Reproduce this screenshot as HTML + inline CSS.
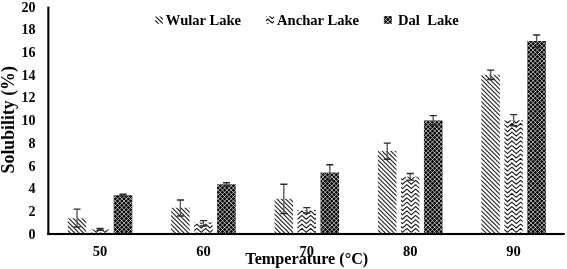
<!DOCTYPE html>
<html><head><meta charset="utf-8"><title>Solubility chart</title>
<style>
html,body{margin:0;padding:0;background:#fff;}
body{width:567px;height:269px;overflow:hidden;}
svg{display:block;}
text{font-family:"Liberation Serif","Times New Roman",serif;font-weight:bold;fill:#000;}
</style></head><body>
<svg width="567" height="269" viewBox="0 0 567 269">
<rect width="567" height="269" fill="#fff"/>
<defs><clipPath id="b1"><rect x="67.75" y="218.3" width="18.5" height="15.7"/></clipPath>
<clipPath id="b2"><rect x="90.75" y="229.6" width="18.5" height="4.4"/></clipPath>
<clipPath id="b3"><rect x="113.75" y="195.2" width="18.5" height="38.8"/></clipPath>
<clipPath id="b4"><rect x="171.15" y="207.8" width="18.5" height="26.2"/></clipPath>
<clipPath id="b5"><rect x="194.15" y="222.6" width="18.5" height="11.4"/></clipPath>
<clipPath id="b6"><rect x="217.15" y="184.3" width="18.5" height="49.7"/></clipPath>
<clipPath id="b7"><rect x="274.55" y="198.8" width="18.5" height="35.2"/></clipPath>
<clipPath id="b8"><rect x="297.55" y="210" width="18.5" height="24"/></clipPath>
<clipPath id="b9"><rect x="320.55" y="172.6" width="18.5" height="61.4"/></clipPath>
<clipPath id="b10"><rect x="377.95" y="151.1" width="18.5" height="82.9"/></clipPath>
<clipPath id="b11"><rect x="400.95" y="176.7" width="18.5" height="57.3"/></clipPath>
<clipPath id="b12"><rect x="423.95" y="120.5" width="18.5" height="113.5"/></clipPath>
<clipPath id="b13"><rect x="481.35" y="74.8" width="18.5" height="159.2"/></clipPath>
<clipPath id="b14"><rect x="504.35" y="120.2" width="18.5" height="113.8"/></clipPath>
<clipPath id="b15"><rect x="527.35" y="41" width="18.5" height="193"/></clipPath>
<clipPath id="c1"><rect x="155.2" y="16.4" width="7.7" height="7.3"/></clipPath>
<clipPath id="c2"><rect x="266" y="16.3" width="8" height="7.5"/></clipPath>
<clipPath id="c3"><rect x="383.9" y="16" width="8" height="7.8"/></clipPath>
<filter id="bl" x="0" y="0" width="567" height="269" filterUnits="userSpaceOnUse"><feGaussianBlur stdDeviation="0.35"/></filter></defs>
<g filter="url(#bl)">
<path clip-path="url(#b1)" d="M84.75,216.8L87.75,219.8M80.38,216.8L87.75,224.18M76,216.8L87.75,228.55M71.62,216.8L87.75,232.93M67.25,216.8L85.95,235.5M66.25,220.18L81.57,235.5M66.25,224.55L77.2,235.5M66.25,228.93L72.82,235.5M66.25,233.3L68.45,235.5" stroke="#1c1c1c" stroke-width="1.1" fill="none"/>
<path clip-path="url(#b2)" d="M87.5,223.62L91.88,219.72L96.25,223.62L100.62,219.72L105,223.62L109.38,219.72L113.75,223.62L118.12,219.72M87.5,228L91.88,224.1L96.25,228L100.62,224.1L105,228L109.38,224.1L113.75,228L118.12,224.1M87.5,232.38L91.88,228.47L96.25,232.38L100.62,228.47L105,232.38L109.38,228.47L113.75,232.38L118.12,228.47M87.5,236.75L91.88,232.85L96.25,236.75L100.62,232.85L105,236.75L109.38,232.85L113.75,236.75L118.12,232.85" stroke="#161616" stroke-width="1.06" fill="none" stroke-linejoin="round"/>
<rect x="113.75" y="195.2" width="18.5" height="38.8" fill="#000"/>
<path clip-path="url(#b3)" d="M112.25,176.09L133.75,197.59M112.25,180.47L133.75,201.97M112.25,184.84L133.75,206.34M112.25,189.22L133.75,210.72M112.25,193.59L133.75,215.09M112.25,197.97L133.75,219.47M112.25,202.34L133.75,223.84M112.25,206.72L133.75,228.22M112.25,211.09L133.75,232.59M112.25,215.47L133.75,236.97M112.25,219.84L133.75,241.34M112.25,224.22L133.75,245.72M112.25,228.59L133.75,250.09M112.25,232.97L133.75,254.47M112.25,195.31L133.75,173.81M112.25,199.68L133.75,178.18M112.25,204.06L133.75,182.56M112.25,208.43L133.75,186.93M112.25,212.81L133.75,191.31M112.25,217.18L133.75,195.68M112.25,221.56L133.75,200.06M112.25,225.93L133.75,204.43M112.25,230.31L133.75,208.81M112.25,234.68L133.75,213.18M112.25,239.06L133.75,217.56M112.25,243.43L133.75,221.93M112.25,247.81L133.75,226.31M112.25,252.18L133.75,230.68" stroke="#e8e8e8" stroke-width="0.75" fill="none"/>
<path clip-path="url(#b4)" d="M188,206.3L191.15,209.45M183.62,206.3L191.15,213.83M179.25,206.3L191.15,218.2M174.88,206.3L191.15,222.58M170.5,206.3L191.15,226.95M169.65,209.83L191.15,231.33M169.65,214.2L190.95,235.5M169.65,218.58L186.57,235.5M169.65,222.95L182.2,235.5M169.65,227.33L177.82,235.5M169.65,231.7L173.45,235.5" stroke="#1c1c1c" stroke-width="1.1" fill="none"/>
<path clip-path="url(#b5)" d="M183.75,219.25L188.12,215.35L192.5,219.25L196.88,215.35L201.25,219.25L205.62,215.35L210,219.25L214.38,215.35L218.75,219.25L223.12,215.35M183.75,223.62L188.12,219.72L192.5,223.62L196.88,219.72L201.25,223.62L205.62,219.72L210,223.62L214.38,219.72L218.75,223.62L223.12,219.72M183.75,228L188.12,224.1L192.5,228L196.88,224.1L201.25,228L205.62,224.1L210,228L214.38,224.1L218.75,228L223.12,224.1M183.75,232.38L188.12,228.47L192.5,232.38L196.88,228.47L201.25,232.38L205.62,228.47L210,232.38L214.38,228.47L218.75,232.38L223.12,228.47M183.75,236.75L188.12,232.85L192.5,236.75L196.88,232.85L201.25,236.75L205.62,232.85L210,236.75L214.38,232.85L218.75,236.75L223.12,232.85" stroke="#161616" stroke-width="1.06" fill="none" stroke-linejoin="round"/>
<rect x="217.15" y="184.3" width="18.5" height="49.7" fill="#000"/>
<path clip-path="url(#b6)" d="M215.65,165.75L237.15,187.25M215.65,170.12L237.15,191.62M215.65,174.5L237.15,196M215.65,178.87L237.15,200.37M215.65,183.25L237.15,204.75M215.65,187.62L237.15,209.12M215.65,192L237.15,213.5M215.65,196.37L237.15,217.87M215.65,200.75L237.15,222.25M215.65,205.12L237.15,226.62M215.65,209.5L237.15,231M215.65,213.87L237.15,235.37M215.65,218.25L237.15,239.75M215.65,222.62L237.15,244.12M215.65,227L237.15,248.5M215.65,231.37L237.15,252.87M215.65,188.15L237.15,166.65M215.65,192.53L237.15,171.03M215.65,196.9L237.15,175.4M215.65,201.28L237.15,179.78M215.65,205.65L237.15,184.15M215.65,210.03L237.15,188.53M215.65,214.4L237.15,192.9M215.65,218.78L237.15,197.28M215.65,223.15L237.15,201.65M215.65,227.53L237.15,206.03M215.65,231.9L237.15,210.4M215.65,236.28L237.15,214.78M215.65,240.65L237.15,219.15M215.65,245.03L237.15,223.53M215.65,249.4L237.15,227.9M215.65,253.78L237.15,232.28" stroke="#e8e8e8" stroke-width="0.75" fill="none"/>
<path clip-path="url(#b7)" d="M292.75,197.3L294.55,199.1M288.38,197.3L294.55,203.48M284,197.3L294.55,207.85M279.62,197.3L294.55,212.23M275.25,197.3L294.55,216.6M273.05,199.48L294.55,220.98M273.05,203.85L294.55,225.35M273.05,208.23L294.55,229.73M273.05,212.6L294.55,234.1M273.05,216.98L291.57,235.5M273.05,221.35L287.2,235.5M273.05,225.73L282.82,235.5M273.05,230.1L278.45,235.5M273.05,234.48L274.07,235.5" stroke="#1c1c1c" stroke-width="1.1" fill="none"/>
<path clip-path="url(#b8)" d="M288.75,206.12L293.12,202.22L297.5,206.12L301.88,202.22L306.25,206.12L310.62,202.22L315,206.12L319.38,202.22M288.75,210.5L293.12,206.6L297.5,210.5L301.88,206.6L306.25,210.5L310.62,206.6L315,210.5L319.38,206.6M288.75,214.88L293.12,210.97L297.5,214.88L301.88,210.97L306.25,214.88L310.62,210.97L315,214.88L319.38,210.97M288.75,219.25L293.12,215.35L297.5,219.25L301.88,215.35L306.25,219.25L310.62,215.35L315,219.25L319.38,215.35M288.75,223.62L293.12,219.72L297.5,223.62L301.88,219.72L306.25,223.62L310.62,219.72L315,223.62L319.38,219.72M288.75,228L293.12,224.1L297.5,228L301.88,224.1L306.25,228L310.62,224.1L315,228L319.38,224.1M288.75,232.38L293.12,228.47L297.5,232.38L301.88,228.47L306.25,232.38L310.62,228.47L315,232.38L319.38,228.47M288.75,236.75L293.12,232.85L297.5,236.75L301.88,232.85L306.25,236.75L310.62,232.85L315,236.75L319.38,232.85" stroke="#161616" stroke-width="1.06" fill="none" stroke-linejoin="round"/>
<rect x="320.55" y="172.6" width="18.5" height="61.4" fill="#000"/>
<path clip-path="url(#b9)" d="M319.05,151.02L340.55,172.52M319.05,155.4L340.55,176.9M319.05,159.77L340.55,181.27M319.05,164.15L340.55,185.65M319.05,168.52L340.55,190.02M319.05,172.9L340.55,194.4M319.05,177.27L340.55,198.77M319.05,181.65L340.55,203.15M319.05,186.02L340.55,207.52M319.05,190.4L340.55,211.9M319.05,194.77L340.55,216.27M319.05,199.15L340.55,220.65M319.05,203.52L340.55,225.02M319.05,207.9L340.55,229.4M319.05,212.27L340.55,233.77M319.05,216.65L340.55,238.15M319.05,221.02L340.55,242.52M319.05,225.4L340.55,246.9M319.05,229.77L340.55,251.27M319.05,234.15L340.55,255.65M319.05,172.25L340.55,150.75M319.05,176.63L340.55,155.13M319.05,181L340.55,159.5M319.05,185.38L340.55,163.88M319.05,189.75L340.55,168.25M319.05,194.13L340.55,172.63M319.05,198.5L340.55,177M319.05,202.88L340.55,181.38M319.05,207.25L340.55,185.75M319.05,211.63L340.55,190.13M319.05,216L340.55,194.5M319.05,220.38L340.55,198.88M319.05,224.75L340.55,203.25M319.05,229.13L340.55,207.63M319.05,233.5L340.55,212M319.05,237.88L340.55,216.38M319.05,242.25L340.55,220.75M319.05,246.63L340.55,225.13M319.05,251L340.55,229.5M319.05,255.38L340.55,233.88" stroke="#e8e8e8" stroke-width="0.75" fill="none"/>
<path clip-path="url(#b10)" d="M393.8,149.6L397.95,153.75M389.42,149.6L397.95,158.13M385.05,149.6L397.95,162.5M380.67,149.6L397.95,166.88M376.45,149.75L397.95,171.25M376.45,154.13L397.95,175.63M376.45,158.5L397.95,180M376.45,162.88L397.95,184.38M376.45,167.25L397.95,188.75M376.45,171.63L397.95,193.13M376.45,176L397.95,197.5M376.45,180.38L397.95,201.88M376.45,184.75L397.95,206.25M376.45,189.13L397.95,210.63M376.45,193.5L397.95,215M376.45,197.88L397.95,219.38M376.45,202.25L397.95,223.75M376.45,206.63L397.95,228.13M376.45,211L397.95,232.5M376.45,215.38L396.57,235.5M376.45,219.75L392.2,235.5M376.45,224.13L387.82,235.5M376.45,228.5L383.45,235.5M376.45,232.88L379.07,235.5" stroke="#1c1c1c" stroke-width="1.1" fill="none"/>
<path clip-path="url(#b11)" d="M393.75,171.12L398.12,167.22L402.5,171.12L406.88,167.22L411.25,171.12L415.62,167.22L420,171.12L424.38,167.22M393.75,175.5L398.12,171.6L402.5,175.5L406.88,171.6L411.25,175.5L415.62,171.6L420,175.5L424.38,171.6M393.75,179.88L398.12,175.97L402.5,179.88L406.88,175.97L411.25,179.88L415.62,175.97L420,179.88L424.38,175.97M393.75,184.25L398.12,180.35L402.5,184.25L406.88,180.35L411.25,184.25L415.62,180.35L420,184.25L424.38,180.35M393.75,188.62L398.12,184.72L402.5,188.62L406.88,184.72L411.25,188.62L415.62,184.72L420,188.62L424.38,184.72M393.75,193L398.12,189.1L402.5,193L406.88,189.1L411.25,193L415.62,189.1L420,193L424.38,189.1M393.75,197.38L398.12,193.47L402.5,197.38L406.88,193.47L411.25,197.38L415.62,193.47L420,197.38L424.38,193.47M393.75,201.75L398.12,197.85L402.5,201.75L406.88,197.85L411.25,201.75L415.62,197.85L420,201.75L424.38,197.85M393.75,206.12L398.12,202.22L402.5,206.12L406.88,202.22L411.25,206.12L415.62,202.22L420,206.12L424.38,202.22M393.75,210.5L398.12,206.6L402.5,210.5L406.88,206.6L411.25,210.5L415.62,206.6L420,210.5L424.38,206.6M393.75,214.88L398.12,210.97L402.5,214.88L406.88,210.97L411.25,214.88L415.62,210.97L420,214.88L424.38,210.97M393.75,219.25L398.12,215.35L402.5,219.25L406.88,215.35L411.25,219.25L415.62,215.35L420,219.25L424.38,215.35M393.75,223.62L398.12,219.72L402.5,223.62L406.88,219.72L411.25,223.62L415.62,219.72L420,223.62L424.38,219.72M393.75,228L398.12,224.1L402.5,228L406.88,224.1L411.25,228L415.62,224.1L420,228L424.38,224.1M393.75,232.38L398.12,228.47L402.5,232.38L406.88,228.47L411.25,232.38L415.62,228.47L420,232.38L424.38,228.47M393.75,236.75L398.12,232.85L402.5,236.75L406.88,232.85L411.25,236.75L415.62,232.85L420,236.75L424.38,232.85" stroke="#161616" stroke-width="1.06" fill="none" stroke-linejoin="round"/>
<rect x="423.95" y="120.5" width="18.5" height="113.5" fill="#000"/>
<path clip-path="url(#b12)" d="M422.45,101.3L443.95,122.8M422.45,105.67L443.95,127.17M422.45,110.05L443.95,131.55M422.45,114.42L443.95,135.92M422.45,118.8L443.95,140.3M422.45,123.17L443.95,144.67M422.45,127.55L443.95,149.05M422.45,131.92L443.95,153.42M422.45,136.3L443.95,157.8M422.45,140.67L443.95,162.17M422.45,145.05L443.95,166.55M422.45,149.42L443.95,170.92M422.45,153.8L443.95,175.3M422.45,158.17L443.95,179.67M422.45,162.55L443.95,184.05M422.45,166.92L443.95,188.42M422.45,171.3L443.95,192.8M422.45,175.67L443.95,197.17M422.45,180.05L443.95,201.55M422.45,184.42L443.95,205.92M422.45,188.8L443.95,210.3M422.45,193.17L443.95,214.67M422.45,197.55L443.95,219.05M422.45,201.92L443.95,223.42M422.45,206.3L443.95,227.8M422.45,210.67L443.95,232.17M422.45,215.05L443.95,236.55M422.45,219.42L443.95,240.92M422.45,223.8L443.95,245.3M422.45,228.17L443.95,249.67M422.45,232.55L443.95,254.05M422.45,121.35L443.95,99.85M422.45,125.73L443.95,104.23M422.45,130.1L443.95,108.6M422.45,134.48L443.95,112.98M422.45,138.85L443.95,117.35M422.45,143.23L443.95,121.73M422.45,147.6L443.95,126.1M422.45,151.98L443.95,130.48M422.45,156.35L443.95,134.85M422.45,160.73L443.95,139.23M422.45,165.1L443.95,143.6M422.45,169.48L443.95,147.98M422.45,173.85L443.95,152.35M422.45,178.23L443.95,156.73M422.45,182.6L443.95,161.1M422.45,186.98L443.95,165.48M422.45,191.35L443.95,169.85M422.45,195.73L443.95,174.23M422.45,200.1L443.95,178.6M422.45,204.48L443.95,182.98M422.45,208.85L443.95,187.35M422.45,213.23L443.95,191.73M422.45,217.6L443.95,196.1M422.45,221.98L443.95,200.48M422.45,226.35L443.95,204.85M422.45,230.73L443.95,209.23M422.45,235.1L443.95,213.6M422.45,239.48L443.95,217.98M422.45,243.85L443.95,222.35M422.45,248.23L443.95,226.73M422.45,252.6L443.95,231.1" stroke="#e8e8e8" stroke-width="0.75" fill="none"/>
<path clip-path="url(#b13)" d="M496.88,73.3L501.35,77.78M492.5,73.3L501.35,82.15M488.12,73.3L501.35,86.53M483.75,73.3L501.35,90.9M479.85,73.78L501.35,95.28M479.85,78.15L501.35,99.65M479.85,82.53L501.35,104.03M479.85,86.9L501.35,108.4M479.85,91.28L501.35,112.78M479.85,95.65L501.35,117.15M479.85,100.03L501.35,121.53M479.85,104.4L501.35,125.9M479.85,108.78L501.35,130.28M479.85,113.15L501.35,134.65M479.85,117.53L501.35,139.03M479.85,121.9L501.35,143.4M479.85,126.28L501.35,147.78M479.85,130.65L501.35,152.15M479.85,135.03L501.35,156.53M479.85,139.4L501.35,160.9M479.85,143.78L501.35,165.28M479.85,148.15L501.35,169.65M479.85,152.53L501.35,174.03M479.85,156.9L501.35,178.4M479.85,161.28L501.35,182.78M479.85,165.65L501.35,187.15M479.85,170.03L501.35,191.53M479.85,174.4L501.35,195.9M479.85,178.78L501.35,200.28M479.85,183.15L501.35,204.65M479.85,187.53L501.35,209.03M479.85,191.9L501.35,213.4M479.85,196.28L501.35,217.78M479.85,200.65L501.35,222.15M479.85,205.03L501.35,226.53M479.85,209.4L501.35,230.9M479.85,213.78L501.35,235.28M479.85,218.15L497.2,235.5M479.85,222.53L492.82,235.5M479.85,226.9L488.45,235.5M479.85,231.28L484.07,235.5" stroke="#1c1c1c" stroke-width="1.1" fill="none"/>
<path clip-path="url(#b14)" d="M498.75,114.25L503.12,110.35L507.5,114.25L511.88,110.35L516.25,114.25L520.62,110.35L525,114.25L529.38,110.35M498.75,118.62L503.12,114.72L507.5,118.62L511.88,114.72L516.25,118.62L520.62,114.72L525,118.62L529.38,114.72M498.75,123L503.12,119.1L507.5,123L511.88,119.1L516.25,123L520.62,119.1L525,123L529.38,119.1M498.75,127.38L503.12,123.47L507.5,127.38L511.88,123.47L516.25,127.38L520.62,123.47L525,127.38L529.38,123.47M498.75,131.75L503.12,127.85L507.5,131.75L511.88,127.85L516.25,131.75L520.62,127.85L525,131.75L529.38,127.85M498.75,136.12L503.12,132.22L507.5,136.12L511.88,132.22L516.25,136.12L520.62,132.22L525,136.12L529.38,132.22M498.75,140.5L503.12,136.6L507.5,140.5L511.88,136.6L516.25,140.5L520.62,136.6L525,140.5L529.38,136.6M498.75,144.88L503.12,140.97L507.5,144.88L511.88,140.97L516.25,144.88L520.62,140.97L525,144.88L529.38,140.97M498.75,149.25L503.12,145.35L507.5,149.25L511.88,145.35L516.25,149.25L520.62,145.35L525,149.25L529.38,145.35M498.75,153.62L503.12,149.72L507.5,153.62L511.88,149.72L516.25,153.62L520.62,149.72L525,153.62L529.38,149.72M498.75,158L503.12,154.1L507.5,158L511.88,154.1L516.25,158L520.62,154.1L525,158L529.38,154.1M498.75,162.38L503.12,158.47L507.5,162.38L511.88,158.47L516.25,162.38L520.62,158.47L525,162.38L529.38,158.47M498.75,166.75L503.12,162.85L507.5,166.75L511.88,162.85L516.25,166.75L520.62,162.85L525,166.75L529.38,162.85M498.75,171.12L503.12,167.22L507.5,171.12L511.88,167.22L516.25,171.12L520.62,167.22L525,171.12L529.38,167.22M498.75,175.5L503.12,171.6L507.5,175.5L511.88,171.6L516.25,175.5L520.62,171.6L525,175.5L529.38,171.6M498.75,179.88L503.12,175.97L507.5,179.88L511.88,175.97L516.25,179.88L520.62,175.97L525,179.88L529.38,175.97M498.75,184.25L503.12,180.35L507.5,184.25L511.88,180.35L516.25,184.25L520.62,180.35L525,184.25L529.38,180.35M498.75,188.62L503.12,184.72L507.5,188.62L511.88,184.72L516.25,188.62L520.62,184.72L525,188.62L529.38,184.72M498.75,193L503.12,189.1L507.5,193L511.88,189.1L516.25,193L520.62,189.1L525,193L529.38,189.1M498.75,197.38L503.12,193.47L507.5,197.38L511.88,193.47L516.25,197.38L520.62,193.47L525,197.38L529.38,193.47M498.75,201.75L503.12,197.85L507.5,201.75L511.88,197.85L516.25,201.75L520.62,197.85L525,201.75L529.38,197.85M498.75,206.12L503.12,202.22L507.5,206.12L511.88,202.22L516.25,206.12L520.62,202.22L525,206.12L529.38,202.22M498.75,210.5L503.12,206.6L507.5,210.5L511.88,206.6L516.25,210.5L520.62,206.6L525,210.5L529.38,206.6M498.75,214.88L503.12,210.97L507.5,214.88L511.88,210.97L516.25,214.88L520.62,210.97L525,214.88L529.38,210.97M498.75,219.25L503.12,215.35L507.5,219.25L511.88,215.35L516.25,219.25L520.62,215.35L525,219.25L529.38,215.35M498.75,223.62L503.12,219.72L507.5,223.62L511.88,219.72L516.25,223.62L520.62,219.72L525,223.62L529.38,219.72M498.75,228L503.12,224.1L507.5,228L511.88,224.1L516.25,228L520.62,224.1L525,228L529.38,224.1M498.75,232.38L503.12,228.47L507.5,232.38L511.88,228.47L516.25,232.38L520.62,228.47L525,232.38L529.38,228.47M498.75,236.75L503.12,232.85L507.5,236.75L511.88,232.85L516.25,236.75L520.62,232.85L525,236.75L529.38,232.85" stroke="#161616" stroke-width="1.06" fill="none" stroke-linejoin="round"/>
<rect x="527.35" y="41" width="18.5" height="193" fill="#000"/>
<path clip-path="url(#b15)" d="M525.85,20.95L547.35,42.45M525.85,25.32L547.35,46.82M525.85,29.7L547.35,51.2M525.85,34.07L547.35,55.57M525.85,38.45L547.35,59.95M525.85,42.82L547.35,64.32M525.85,47.2L547.35,68.7M525.85,51.57L547.35,73.07M525.85,55.95L547.35,77.45M525.85,60.32L547.35,81.82M525.85,64.7L547.35,86.2M525.85,69.07L547.35,90.57M525.85,73.45L547.35,94.95M525.85,77.82L547.35,99.32M525.85,82.2L547.35,103.7M525.85,86.57L547.35,108.07M525.85,90.95L547.35,112.45M525.85,95.32L547.35,116.82M525.85,99.7L547.35,121.2M525.85,104.07L547.35,125.57M525.85,108.45L547.35,129.95M525.85,112.82L547.35,134.32M525.85,117.2L547.35,138.7M525.85,121.57L547.35,143.07M525.85,125.95L547.35,147.45M525.85,130.32L547.35,151.82M525.85,134.7L547.35,156.2M525.85,139.07L547.35,160.57M525.85,143.45L547.35,164.95M525.85,147.82L547.35,169.32M525.85,152.2L547.35,173.7M525.85,156.57L547.35,178.07M525.85,160.95L547.35,182.45M525.85,165.32L547.35,186.82M525.85,169.7L547.35,191.2M525.85,174.07L547.35,195.57M525.85,178.45L547.35,199.95M525.85,182.82L547.35,204.32M525.85,187.2L547.35,208.7M525.85,191.57L547.35,213.07M525.85,195.95L547.35,217.45M525.85,200.32L547.35,221.82M525.85,204.7L547.35,226.2M525.85,209.07L547.35,230.57M525.85,213.45L547.35,234.95M525.85,217.82L547.35,239.32M525.85,222.2L547.35,243.7M525.85,226.57L547.35,248.07M525.85,230.95L547.35,252.45M525.85,44.2L547.35,22.7M525.85,48.58L547.35,27.08M525.85,52.95L547.35,31.45M525.85,57.33L547.35,35.83M525.85,61.7L547.35,40.2M525.85,66.08L547.35,44.58M525.85,70.45L547.35,48.95M525.85,74.83L547.35,53.33M525.85,79.2L547.35,57.7M525.85,83.58L547.35,62.08M525.85,87.95L547.35,66.45M525.85,92.33L547.35,70.83M525.85,96.7L547.35,75.2M525.85,101.08L547.35,79.58M525.85,105.45L547.35,83.95M525.85,109.83L547.35,88.33M525.85,114.2L547.35,92.7M525.85,118.58L547.35,97.08M525.85,122.95L547.35,101.45M525.85,127.33L547.35,105.83M525.85,131.7L547.35,110.2M525.85,136.08L547.35,114.58M525.85,140.45L547.35,118.95M525.85,144.83L547.35,123.33M525.85,149.2L547.35,127.7M525.85,153.58L547.35,132.08M525.85,157.95L547.35,136.45M525.85,162.33L547.35,140.83M525.85,166.7L547.35,145.2M525.85,171.08L547.35,149.58M525.85,175.45L547.35,153.95M525.85,179.83L547.35,158.33M525.85,184.2L547.35,162.7M525.85,188.58L547.35,167.08M525.85,192.95L547.35,171.45M525.85,197.33L547.35,175.83M525.85,201.7L547.35,180.2M525.85,206.08L547.35,184.58M525.85,210.45L547.35,188.95M525.85,214.83L547.35,193.33M525.85,219.2L547.35,197.7M525.85,223.58L547.35,202.08M525.85,227.95L547.35,206.45M525.85,232.33L547.35,210.83M525.85,236.7L547.35,215.2M525.85,241.08L547.35,219.58M525.85,245.45L547.35,223.95M525.85,249.83L547.35,228.33M525.85,254.2L547.35,232.7" stroke="#e8e8e8" stroke-width="0.75" fill="none"/>
</g>
<path d="M77,209.1V226.9M100,228.4V230.2M123,194.3V196.1M180.4,200V216M203.4,220.6V226M226.4,182.8V185.8M283.8,184.2V213.6M306.8,207.6V213M329.8,164.7V180.3M387.2,143.1V159.2M410.2,173.5V180.1M433.2,115.6V125M490.6,70.1V79.4M513.6,114.6V125.8M536.6,34.9V47" stroke="#585858" stroke-width="1.35" fill="none"/>
<path d="M73.5,209.1H80.6M73.5,226.9H80.6M96.5,228.4H103.6M96.5,230.2H103.6M119.5,194.3H126.6M119.5,196.1H126.6M176.9,200H184M176.9,216H184M199.9,220.6H207M199.9,226H207M222.9,182.8H230M222.9,185.8H230M280.3,184.2H287.4M280.3,213.6H287.4M303.3,207.6H310.4M303.3,213H310.4M326.3,164.7H333.4M326.3,180.3H333.4M383.7,143.1H390.8M383.7,159.2H390.8M406.7,173.5H413.8M406.7,180.1H413.8M429.7,115.6H436.8M429.7,125H436.8M487.1,70.1H494.2M487.1,79.4H494.2M510.1,114.6H517.2M510.1,125.8H517.2M533.1,34.9H540.2M533.1,47H540.2" stroke="#2a2a2a" stroke-width="1.45" fill="none"/>
<text x="100" y="255.8" font-size="14.5" text-anchor="middle">50</text>
<text x="203.4" y="255.8" font-size="14.5" text-anchor="middle">60</text>
<text x="306.8" y="255.8" font-size="14.5" text-anchor="middle">70</text>
<text x="410.2" y="255.8" font-size="14.5" text-anchor="middle">80</text>
<text x="513.6" y="255.8" font-size="14.5" text-anchor="middle">90</text>
<rect x="47.3" y="6.6" width="2.1" height="228.45" fill="#000"/>
<rect x="47.3" y="232.95" width="517.5" height="2.1" fill="#000"/>
<text x="35.6" y="238.75" font-size="14" text-anchor="end">0</text>
<text x="35.6" y="216.03" font-size="14" text-anchor="end">2</text>
<text x="35.6" y="193.31" font-size="14" text-anchor="end">4</text>
<text x="35.6" y="170.59" font-size="14" text-anchor="end">6</text>
<text x="35.6" y="147.87" font-size="14" text-anchor="end">8</text>
<text x="35.6" y="125.15" font-size="14" text-anchor="end">10</text>
<text x="35.6" y="102.43" font-size="14" text-anchor="end">12</text>
<text x="35.6" y="79.71" font-size="14" text-anchor="end">14</text>
<text x="35.6" y="56.99" font-size="14" text-anchor="end">16</text>
<text x="35.6" y="34.27" font-size="14" text-anchor="end">18</text>
<text x="35.6" y="11.55" font-size="14" text-anchor="end">20</text>
<text transform="translate(14,119.8) rotate(-90)" font-size="17.8" text-anchor="middle">Solubility (%)</text>
<text x="306.8" y="264.2" font-size="16.2" text-anchor="middle">Temperature (°C)</text>
<path clip-path="url(#c1)" d="M162.85,14.9L164.4,16.45M158.47,14.9L164.4,20.83M154.1,14.9L164.4,25.2M153.7,18.88L160.02,25.2M153.7,23.25L155.65,25.2" stroke="#000" stroke-width="1.05" fill="none"/>
<path clip-path="url(#c2)" d="M263.45,14.23L267.82,10.33L272.2,14.23L276.57,10.33M263.45,18.6L267.82,14.7L272.2,18.6L276.57,14.7M263.45,22.98L267.82,19.08L272.2,22.98L276.57,19.08M263.45,27.35L267.82,23.45L272.2,27.35L276.57,23.45" stroke="#000" stroke-width="1.1" fill="none"/>
<rect x="383.9" y="16" width="8" height="7.8" fill="#000"/>
<path clip-path="url(#c3)" d="M382.4,7.45L393.4,18.45M382.4,11.82L393.4,22.82M382.4,16.2L393.4,27.2M382.4,20.57L393.4,31.57M382.4,18.43L393.4,7.43M382.4,22.8L393.4,11.8M382.4,27.18L393.4,16.18M382.4,31.55L393.4,20.55" stroke="#e8e8e8" stroke-width="0.75" fill="none"/>
<text x="165.8" y="24.8" font-size="14.6" style="white-space:pre">Wular Lake</text>
<text x="277.0" y="24.8" font-size="14.6" style="white-space:pre">Anchar Lake</text>
<text x="398.0" y="24.8" font-size="14.6" style="white-space:pre">Dal  Lake</text>
</svg></body></html>
